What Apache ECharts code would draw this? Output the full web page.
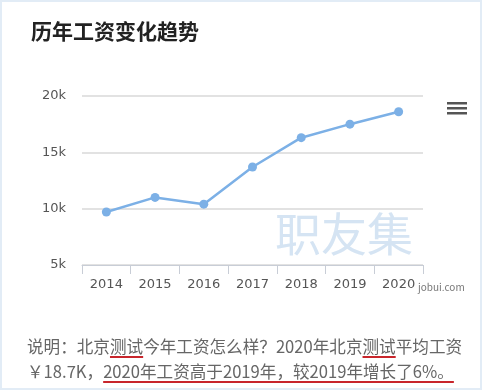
<!DOCTYPE html>
<html>
<head>
<meta charset="utf-8">
<script src="https://cdn.jsdelivr.net/npm/echarts@6/dist/echarts.min.js"></script>
<style>
html,body{margin:0;padding:0;background:#fff;}
#c{width:482px;height:390px;}
</style>
</head>
<body>
<div id="c"></div>
<script>
var years = ['2014','2015','2016','2017','2018','2019','2020'];
var salary = [9700, 11000, 10400, 13700, 16300, 17500, 18600];
var yTicks = [5000, 10000, 15000, 20000];
var titleText = '历年工资变化趋势';
var watermark = '职友集';
var source = 'jobui.com';
var line1 = '说明：北京测试今年工资怎么样？2020年北京测试平均工资';
var line2 = '￥18.7K，2020年工资高于2019年，较2019年增长了6%。';

var FONT = '"Noto Sans CJK SC","Noto Sans",sans-serif';
var cv = document.createElement('canvas').getContext('2d');
function w(str, size){ cv.font = size + 'px ' + FONT; return cv.measureText(str).width; }
var noteSize = 15;
for (var s = 13; s <= 18; s += 0.1) { if (w(line1, s) <= 436) noteSize = s; }
var textLeft = 27;
function seg(line, start, end, y){
  var x1 = textLeft + w(line.slice(0, start), noteSize);
  var x2 = textLeft + w(line.slice(0, end), noteSize);
  return {type:'line', shape:{x1:x1, y1:y, x2:x2, y2:y}, style:{stroke:'#c8262c', lineWidth:2}};
}
var i1 = line1.indexOf('测试'), i2 = line1.lastIndexOf('测试');
var i3 = line2.indexOf('2020');

var chart = echarts.init(document.getElementById('c'));
chart.setOption({
  backgroundColor:'#fff',
  animation:false,
  title:{text:titleText, left:26, top:16,
    textStyle:{fontSize:21, fontWeight:'bold', color:'#222', fontFamily:FONT}},
  grid:{left:82, right:59, top:96, bottom:125},
  xAxis:{type:'category', data:years, boundaryGap:true,
    axisLine:{lineStyle:{color:'#c8cdd6', width:1}},
    axisTick:{show:true, length:9, lineStyle:{color:'#c8cdd6'}},
    axisLabel:{color:'#555', fontSize:13, margin:13, fontFamily:'"DejaVu Sans",sans-serif'},
    splitLine:{show:false}},
  yAxis:{type:'value', min:yTicks[0], max:yTicks[yTicks.length-1], interval:5000,
    axisLine:{show:false}, axisTick:{show:false},
    axisLabel:{color:'#555', fontSize:13, margin:16, fontFamily:'"DejaVu Sans",sans-serif',
      formatter:function(v){return (v/1000)+'k';}},
    splitLine:{lineStyle:{color:'#d9d9d9', width:1.5}}},
  series:[{type:'line', data:salary, symbol:'circle', symbolSize:9,
    itemStyle:{color:'#7cb0e6'}, lineStyle:{color:'#7cb0e6', width:2.5}, z:3}],
  graphic:[
    {type:'rect', shape:{x:0.5,y:0.5,width:481,height:389}, style:{fill:'none', stroke:'#e2ecf6', lineWidth:3}, silent:true},
    {type:'text', left:275, top:211, z:1, style:{text:watermark, fontSize:46, fill:'#d5e4f3', fontFamily:FONT}},
    {type:'text', left:418, top:282, style:{text:source, fontSize:10, fill:'#777', fontFamily:FONT}},
    {type:'rect', shape:{x:447,y:102,width:20,height:2.5}, style:{fill:'#555'}},
    {type:'rect', shape:{x:447,y:107,width:20,height:2.5}, style:{fill:'#555'}},
    {type:'rect', shape:{x:447,y:112,width:20,height:2.5}, style:{fill:'#555'}},
    {type:'text', left:textLeft, top:338, style:{text:line1, fontSize:noteSize, fill:'#666', fontFamily:FONT}},
    {type:'text', left:textLeft, top:363, style:{text:line2, fontSize:noteSize, fill:'#666', fontFamily:FONT}},
    seg(line1, i1, i1+2, 357),
    seg(line1, i2, i2+2, 357),
    seg(line2, i3, line2.length, 382)
  ]
});
</script>
</body>
</html>
